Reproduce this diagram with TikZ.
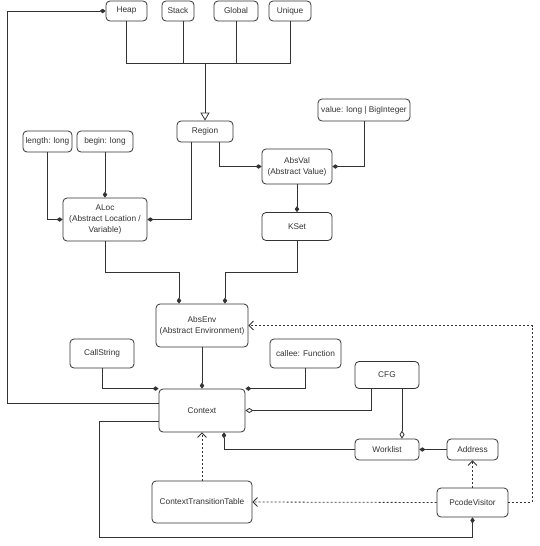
\documentclass[tikz,border=0pt]{standalone}
\usepackage{fontspec}
\setmainfont{Liberation Sans}
\usetikzlibrary{arrows.meta,calc}
\definecolor{ln}{HTML}{333333}
\tikzset{
  box/.style={draw=ln, fill=white, rounded corners=4pt, line width=0.8pt, align=center,
    inner sep=0pt, text=ln, font=\fontsize{8.3}{11}\selectfont},
  conn/.style={draw=ln, line width=0.8pt},
  comp/.style={conn, -{Diamond[length=6pt,width=4.5pt]}},
  agg/.style={conn, -{Diamond[open,length=8pt,width=5pt]}},
  inh/.style={conn, -{Triangle[open,length=8pt,width=9pt]}},
  dep/.style={conn, dash pattern=on 2pt off 2pt, -{Straight Barb[length=4.5pt,width=9pt]}},
}
\begin{document}
\begin{tikzpicture}[x=1pt,y=-1pt]
\useasboundingbox (0,0) rectangle (540,546);
% nodes
\node[box, minimum width=41pt, minimum height=20pt] (heap) at (126.5,11) {Heap};
\node[box, minimum width=32pt, minimum height=20pt] (stack) at (178,11) {Stack};
\node[box, minimum width=44pt, minimum height=20pt] (global) at (236,11) {Global};
\node[box, minimum width=42pt, minimum height=20pt] (unique) at (290,11) {Unique};
\node[box, minimum width=56pt, minimum height=21pt] (region) at (205,131.5) {Region};
\node[box, minimum width=49pt, minimum height=21pt] (len) at (47.5,141.5) {length: long};
\node[box, minimum width=56pt, minimum height=21pt] (begin) at (105,141.5) {begin: long};
\node[box, minimum width=84pt, minimum height=43pt] (aloc) at (105,219.5) {ALoc\\(Abstract Location /\\Variable)};
\node[box, minimum width=70pt, minimum height=35pt] (absval) at (297,166.5) {AbsVal\\(Abstract Value)};
\node[box, minimum width=70pt, minimum height=28pt] (kset) at (297,226.5) {KSet};
\node[box, minimum width=92pt, minimum height=22pt] (value) at (364,110) {value: long | BigInteger};
\node[box, minimum width=92pt, minimum height=43pt] (absenv) at (202,325.5) {AbsEnv\\(Abstract Environment)};
\node[box, minimum width=64pt, minimum height=29pt] (callstring) at (102,353.5) {CallString};
\node[box, minimum width=71pt, minimum height=29pt] (callee) at (305.5,353.5) {callee: Function};
\node[box, minimum width=64pt, minimum height=27pt] (cfg) at (387,375) {CFG};
\node[box, minimum width=86pt, minimum height=43pt] (context) at (202,410.5) {Context};
\node[box, minimum width=64pt, minimum height=21pt] (worklist) at (387,449.5) {Worklist};
\node[box, minimum width=51pt, minimum height=21pt] (address) at (472.5,449.5) {Address};
\node[box, minimum width=71pt, minimum height=29pt] (pcode) at (472.5,502.5) {PcodeVisitor};
\node[box, minimum width=100pt, minimum height=42pt] (ctt) at (202,502) {ContextTransitionTable};
% region hierarchy
\coordinate (bar) at (205,63);
\draw[conn] (heap.south) |- (bar);
\draw[conn] (unique.south) |- (bar);
\draw[conn] ([xshift=5pt]stack.south) -- ([xshift=5pt]stack.south |- bar);
\draw[conn] (global.south) -- (global.south |- bar);
\draw[inh] (bar) -- (region.north);
% aloc / absval
\draw[comp] (len.south) |- (aloc.west);
\draw[comp] (begin.south) -- (aloc.north);
\draw[comp] ([xshift=-14pt]region.south) |- (aloc.east);
\draw[comp] ([xshift=14pt]region.south) |- (absval.west);
\draw[comp] (value.south) |- (absval.east);
\draw[comp] (absval.south) -- (kset.north);
% absenv
\draw[comp] (aloc.south) -- (aloc.south |- 0,272) -| ([xshift=-23pt]absenv.north);
\draw[comp] (kset.south) -- (kset.south |- 0,272) -| ([xshift=23pt]absenv.north);
% context
\draw[comp] (absenv.south) -- (context.north);
\draw[comp] (callstring.south) |- (context.north west);
\draw[comp] (callee.south) |- (context.north east);
\draw[comp] (context.west |- 0,403) -- (7,403) |- (heap.west);
\draw[comp] (context.west |- 0,421) -- (99,421) -- (99,537) -| (pcode.south);
\draw[agg] ([xshift=-16pt]cfg.south) |- (context.east);
\draw[agg] ([xshift=15pt]cfg.south) -- ([xshift=15pt]worklist.north);
\draw[comp] (worklist.west) -| ([xshift=22pt]context.south);
\draw[comp] (address.west) -- (worklist.east);
% dependencies
\draw[dep] (ctt.north) -- (context.south);
\draw[dep] (pcode.north) -- (address.south);
\draw[dep] (pcode.west) -- (ctt.east);
\draw[dep] (pcode.east) -- (532,502.5) |- (absenv.east);
\end{tikzpicture}
\end{document}
